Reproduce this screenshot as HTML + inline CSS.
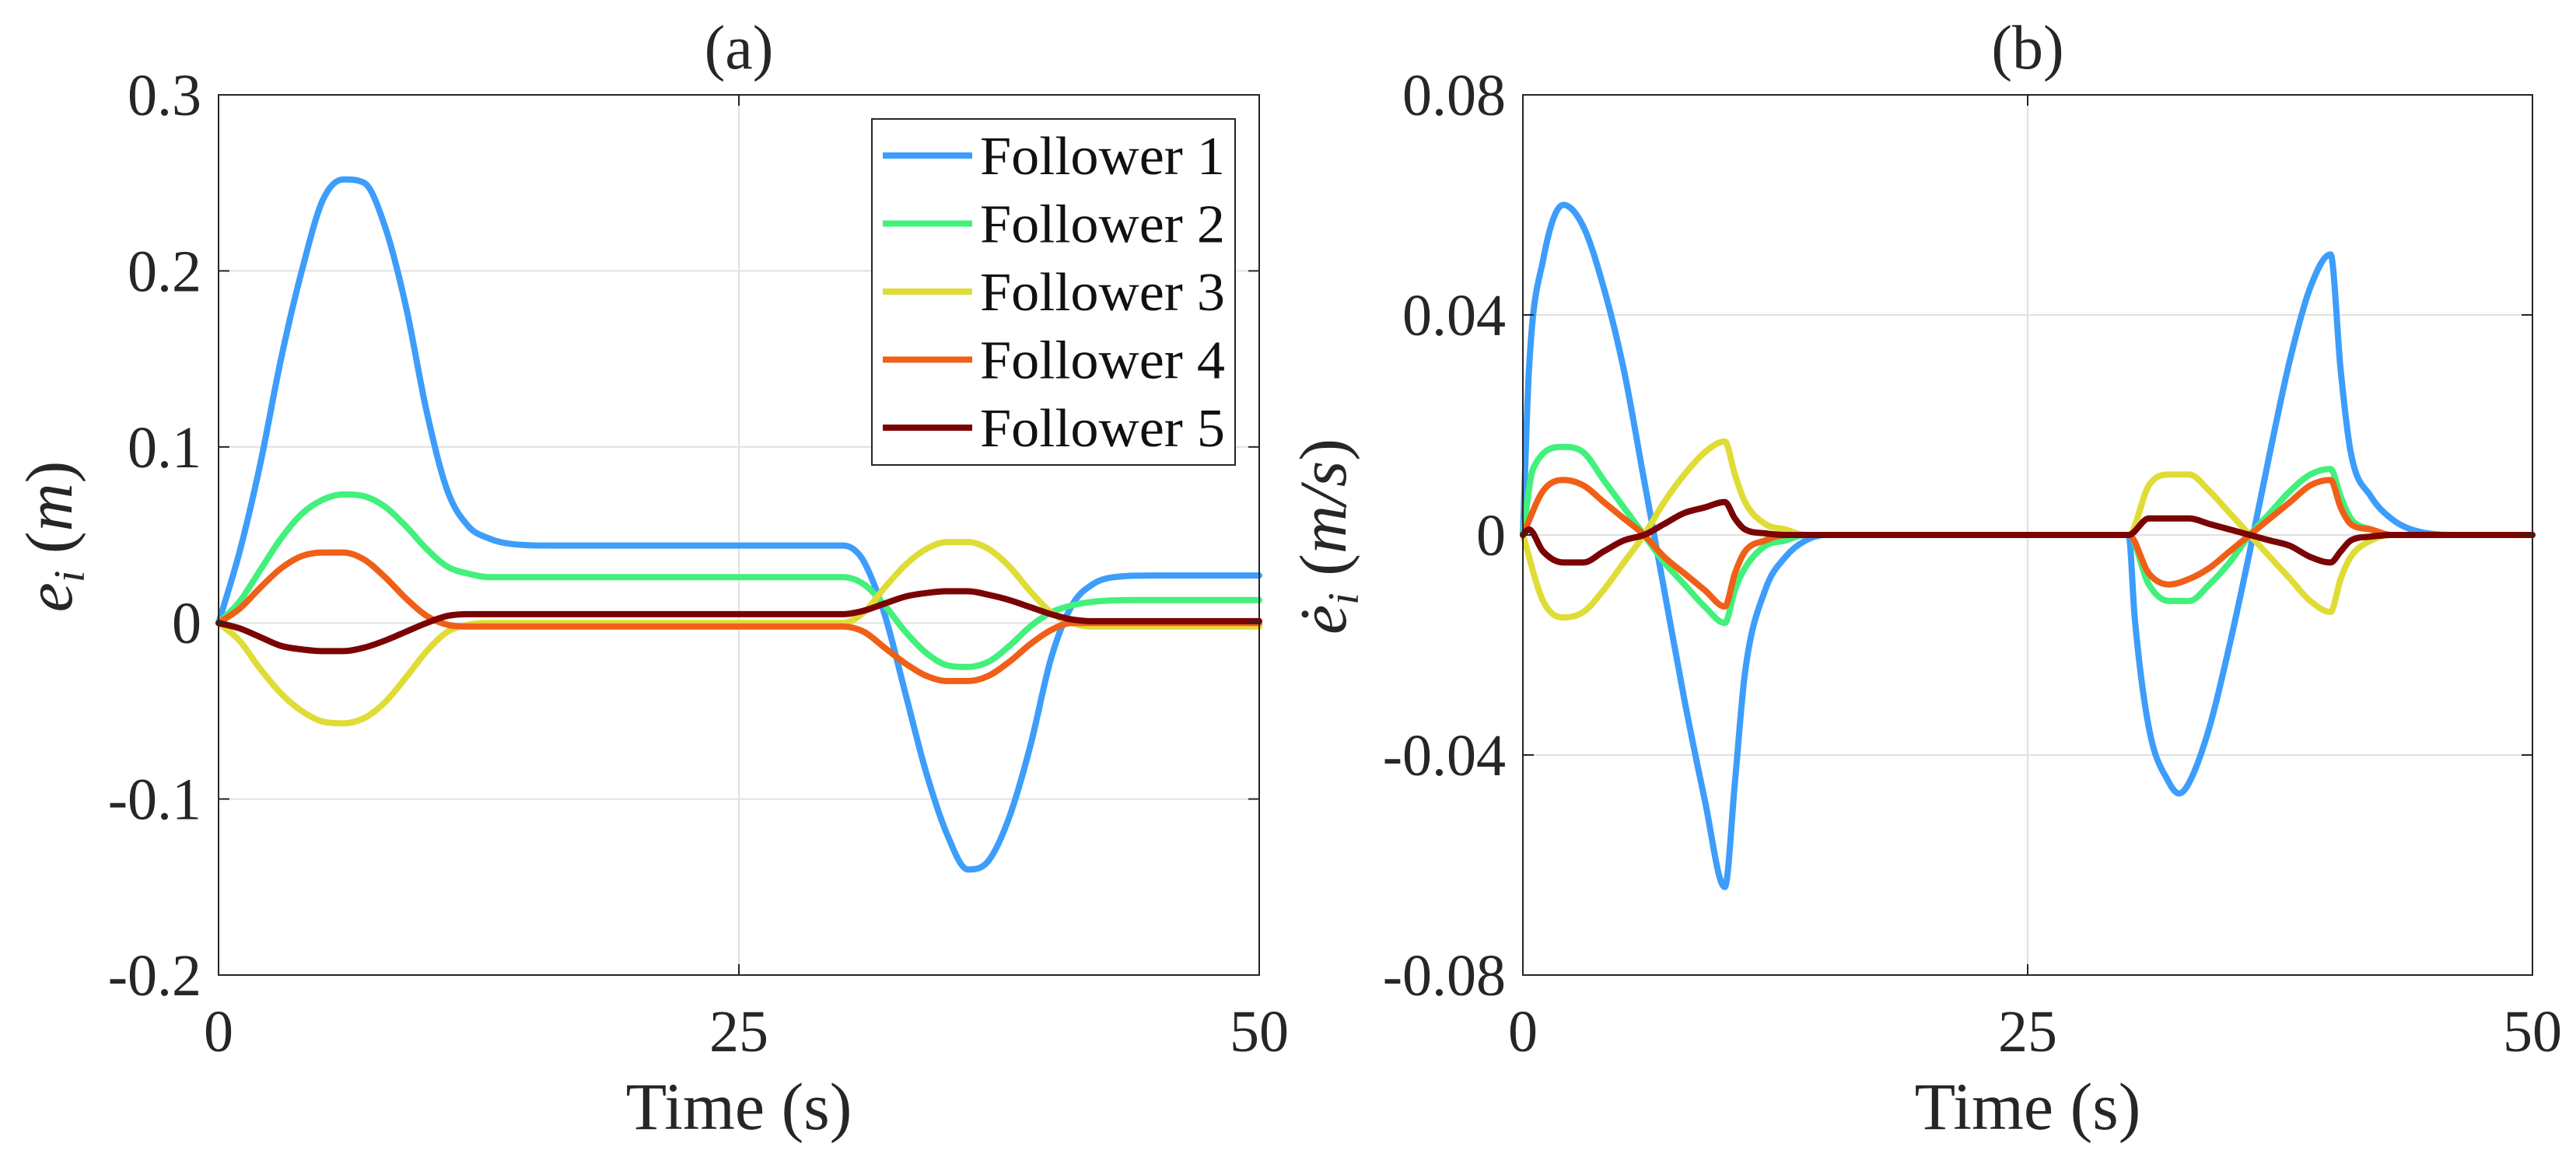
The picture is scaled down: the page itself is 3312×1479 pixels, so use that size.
<!DOCTYPE html>
<html><head><meta charset="utf-8"><style>
html,body{margin:0;padding:0;background:#fff;}
svg{display:block;font-family:"Liberation Serif",serif;}
</style></head><body>
<svg id="fig" width="3312" height="1479" viewBox="0 0 3312 1479" xmlns="http://www.w3.org/2000/svg"></svg>
<script>
const xTicks=[0,25,50];
const aYTicks=[-0.2,-0.1,0,0.1,0.2,0.3];
const aYLabels=["-0.2","-0.1","0","0.1","0.2","0.3"];
const bYTicks=[-0.08,-0.04,0,0.04,0.08];
const bYLabels=["-0.08","-0.04","0","0.04","0.08"];
const seriesNames=["Follower 1","Follower 2","Follower 3","Follower 4","Follower 5"];
const colors=["#3d9dfb","#42f07c","#e0dc36","#f05f18","#7a0404"];
const a1=[[0,0],[1,0.04],[2,0.09],[3,0.15],[4,0.2],[5,0.24],[6,0.252],[7,0.25],[8,0.225],[9,0.18],[10,0.12],[11,0.075],[12,0.055],[13,0.048],[14,0.045],[16,0.044],[30,0.044],[30.5,0.042],[31,0.035],[32,0.005],[33,-0.04],[34,-0.085],[35,-0.12],[36,-0.14],[37,-0.135],[38,-0.11],[39,-0.07],[40,-0.02],[41,0.01],[42,0.022],[43,0.026],[45,0.027],[50,0.027]];
const a2=[[0,0],[1,0.012],[2,0.03],[3,0.048],[4,0.062],[5,0.07],[6,0.073],[7,0.072],[8,0.066],[9,0.055],[10,0.042],[11,0.032],[12,0.028],[13,0.026],[30,0.026],[31,0.022],[32,0.01],[33,-0.005],[34,-0.017],[35,-0.024],[36,-0.025],[37,-0.022],[38,-0.013],[39,-0.002],[40,0.006],[41,0.01],[42,0.012],[44,0.013],[50,0.013]];
const a3=[[0,0],[1,-0.01],[2,-0.026],[3,-0.04],[4,-0.05],[5,-0.056],[6,-0.057],[7,-0.054],[8,-0.045],[9,-0.031],[10,-0.016],[11,-0.005],[12,-0.001],[13,0],[30,0],[31,0.006],[32,0.02],[33,0.033],[34,0.042],[35,0.046],[36,0.046],[37,0.042],[38,0.032],[39,0.018],[40,0.006],[41,0],[42,-0.002],[50,-0.002]];
const a4=[[0,0],[1,0.008],[2,0.02],[3,0.031],[4,0.038],[5,0.04],[6,0.04],[7,0.036],[8,0.026],[9,0.014],[10,0.004],[11,-0.001],[12,-0.002],[30,-0.002],[31,-0.005],[32,-0.014],[33,-0.023],[34,-0.03],[35,-0.033],[36,-0.033],[37,-0.03],[38,-0.022],[39,-0.012],[40,-0.004],[41,0],[42,0],[50,0]];
const a5=[[0,0],[1,-0.003],[2,-0.008],[3,-0.013],[4,-0.015],[5,-0.016],[6,-0.016],[7,-0.014],[8,-0.01],[9,-0.005],[10,0],[11,0.004],[12,0.005],[30,0.005],[31,0.007],[32,0.011],[33,0.015],[34,0.017],[35,0.018],[36,0.018],[37,0.016],[38,0.013],[39,0.009],[40,0.005],[41,0.002],[42,0.001],[50,0.001]];
const b1=[[0,0],[0.3,0.03],[1,0.05],[2,0.06],[3,0.056],[4,0.045],[5,0.03],[6,0.01],[7,-0.01],[8,-0.03],[9,-0.048],[10,-0.064],[10.5,-0.045],[11,-0.025],[12,-0.01],[13,-0.004],[14,-0.001],[15,0],[30,0],[30.3,-0.015],[31,-0.035],[32,-0.045],[32.5,-0.047],[33,-0.045],[34,-0.035],[35,-0.02],[36,-0.003],[37,0.015],[38,0.032],[39,0.045],[40,0.051],[40.5,0.03],[41,0.015],[42,0.007],[43,0.003],[44,0.001],[46,0],[50,0]];
const b2=[[0,0],[0.5,0.012],[2,0.016],[3,0.015],[4,0.01],[5,0.005],[6,0],[7,-0.005],[8,-0.009],[9,-0.013],[10,-0.016],[10.5,-0.01],[11,-0.006],[12,-0.002],[13,-0.001],[14,0],[30,0],[31,-0.009],[32,-0.012],[33,-0.012],[34,-0.009],[35,-0.005],[36,0],[37,0.004],[38,0.008],[39,0.011],[40,0.012],[40.5,0.007],[41,0.003],[42,0.001],[43,0],[50,0]];
const b3=[[0,0],[1,-0.012],[2,-0.015],[3,-0.014],[4,-0.01],[5,-0.005],[6,0],[7,0.006],[8,0.011],[9,0.015],[10,0.017],[10.5,0.011],[11,0.006],[12,0.002],[13,0.001],[14,0],[30,0],[31,0.009],[32,0.011],[33,0.011],[34,0.008],[35,0.004],[36,0],[37,-0.004],[38,-0.008],[39,-0.012],[40,-0.014],[40.5,-0.008],[41,-0.004],[42,-0.001],[43,0],[50,0]];
const b4=[[0,0],[1,0.008],[2,0.01],[3,0.009],[4,0.006],[5,0.003],[6,0],[7,-0.004],[8,-0.007],[9,-0.01],[10,-0.013],[10.5,-0.007],[11,-0.003],[12,-0.001],[13,0],[30,0],[31,-0.007],[32,-0.009],[33,-0.008],[34,-0.006],[35,-0.003],[36,0],[37,0.003],[38,0.006],[39,0.009],[40,0.01],[40.5,0.005],[41,0.002],[42,0.001],[43,0],[50,0]];
const b5=[[0,0],[0.3,0.001],[1,-0.003],[2,-0.005],[3,-0.005],[4,-0.003],[5,-0.001],[6,0],[7,0.002],[8,0.004],[9,0.005],[10,0.006],[10.5,0.003],[11,0.001],[12,0.0003],[13,0],[30,0],[31,0.003],[32,0.003],[33,0.003],[34,0.002],[35,0.001],[36,0],[37,-0.001],[38,-0.002],[39,-0.004],[40,-0.005],[40.5,-0.003],[41,-0.001],[42,-0.0003],[43,0],[50,0]];

const NS="http://www.w3.org/2000/svg";
const svg=document.getElementById('fig');
function mk(tag,attrs,parent,text){const e=document.createElementNS(NS,tag);for(const k in attrs)e.setAttribute(k,attrs[k]);if(text!==undefined)e.textContent=text;(parent||svg).appendChild(e);return e;}

// monotone cubic path through pixel points
function smoothPath(P){
  const n=P.length;const dx=[],m=[],s=[];
  for(let i=0;i<n-1;i++){dx[i]=P[i+1][0]-P[i][0];s[i]=(P[i+1][1]-P[i][1])/dx[i];}
  m[0]=s[0];m[n-1]=s[n-2];
  for(let i=1;i<n-1;i++){m[i]=(s[i-1]*s[i]<=0)?0:(s[i-1]+s[i])/2;}
  for(let i=0;i<n-1;i++){
    if(s[i]===0){m[i]=0;m[i+1]=0;continue;}
    const a=m[i]/s[i],b=m[i+1]/s[i],h=a*a+b*b;
    if(h>9){const t=3/Math.sqrt(h);m[i]=t*a*s[i];m[i+1]=t*b*s[i];}
  }
  let d='M'+P[0][0].toFixed(1)+' '+P[0][1].toFixed(1);
  for(let i=0;i<n-1;i++){
    const h=dx[i]/3;
    d+=' C'+(P[i][0]+h).toFixed(1)+' '+(P[i][1]+m[i]*h).toFixed(1)+' '+(P[i+1][0]-h).toFixed(1)+' '+(P[i+1][1]-m[i+1]*h).toFixed(1)+' '+P[i+1][0].toFixed(1)+' '+P[i+1][1].toFixed(1);
  }
  return d;
}

function panel(cfg){
  const g=mk('g',{});
  
  
  const L=cfg.left,R=cfg.right,T=122,B=1254;
  const sx=t=>L+(t-0)/(50-0)*(R-L);
  const sy=v=>B-(v-cfg.ymin)/(cfg.ymax-cfg.ymin)*(B-T);
  xTicks.forEach(t=>{const l=mk('line',{x1:sx(t),x2:sx(t),y1:T,y2:B,stroke:'#e0e0e0','stroke-width':2},g);
    });
  cfg.yt.forEach(v=>{const l=mk('line',{x1:L,x2:R,y1:sy(v),y2:sy(v),stroke:'#e0e0e0','stroke-width':2},g);
    });
  cfg.series.forEach((s,i)=>{
    const d=smoothPath(s.map(p=>[sx(p[0]),sy(p[1])]));
    const p=mk('path',{d:d,fill:'none',stroke:colors[i],'stroke-width':8,'stroke-linejoin':'round','stroke-linecap':'round'},g);
    
    
  });
  const box=mk('rect',{x:L,y:T,width:R-L,height:B-T,fill:'none',stroke:'#262626','stroke-width':2},g);
  
  xTicks.forEach(t=>{
    mk('line',{x1:sx(t),x2:sx(t),y1:B,y2:B-14,stroke:'#262626','stroke-width':2},g);
    mk('line',{x1:sx(t),x2:sx(t),y1:T,y2:T+14,stroke:'#262626','stroke-width':2},g);
    const tx=mk('text',{x:sx(t),y:1352,'font-size':76,'text-anchor':'middle',fill:'#262626'},g,String(t));
    
  });
  cfg.yt.forEach((v,i)=>{
    mk('line',{x1:L,x2:L+14,y1:sy(v),y2:sy(v),stroke:'#262626','stroke-width':2},g);
    mk('line',{x1:R,x2:R-14,y1:sy(v),y2:sy(v),stroke:'#262626','stroke-width':2},g);
    const tx=mk('text',{x:L-22,y:sy(v)+26,'font-size':76,'text-anchor':'end',fill:'#262626'},g,cfg.yl[i]);
    
  });
  const xt=mk('text',{x:(L+R)/2,y:1452,'font-size':86,'text-anchor':'middle',fill:'#262626'},g,'Time (s)');
  
  const tt=mk('text',{x:(L+R)/2,y:88,'font-size':80,'text-anchor':'middle',fill:'#262626'},g,cfg.title);
  
  const yt=mk('text',{x:0,y:0,'font-size':86,'text-anchor':'middle',fill:'#262626',transform:'translate('+(cfg.ylx)+' 690) rotate(-90)'},g);
  
  yt.innerHTML=cfg.ylab;
  return {g,sx,sy};
}
panel({name:'panel-a',left:281,right:1619,ymin:-0.2,ymax:0.3,yt:aYTicks,yl:aYLabels,series:[a1,a2,a3,a4,a5],title:'(a)',ylx:92,
  ylab:'<tspan font-style="italic">e</tspan><tspan font-style="italic" font-size="56" dy="16">i</tspan><tspan dy="-16">  (</tspan><tspan font-style="italic">m</tspan>)'});
panel({name:'panel-b',left:1958,right:3256,ymin:-0.08,ymax:0.08,yt:bYTicks,yl:bYLabels,series:[b1,b2,b3,b4,b5],title:'(b)',ylx:1730,
  ylab:'<tspan font-style="italic">ė</tspan><tspan font-style="italic" font-size="56" dy="16">i</tspan><tspan dy="-16">  (</tspan><tspan font-style="italic">m/s</tspan>)'});
const lg=mk('g',{});


mk('rect',{x:1121,y:153,width:467,height:445,fill:'#fff',stroke:'#262626','stroke-width':2},lg);
seriesNames.forEach((n,i)=>{
  const y=200+i*87.5;
  const e=mk('g',{},lg);
  
  
  mk('line',{x1:1135,x2:1250,y1:y,y2:y,stroke:colors[i],'stroke-width':8},e);
  mk('text',{x:1260,y:y+24,'font-size':70,fill:'#111',textLength:315,lengthAdjust:'spacingAndGlyphs'},e,n);
});
</script>
</body></html>
